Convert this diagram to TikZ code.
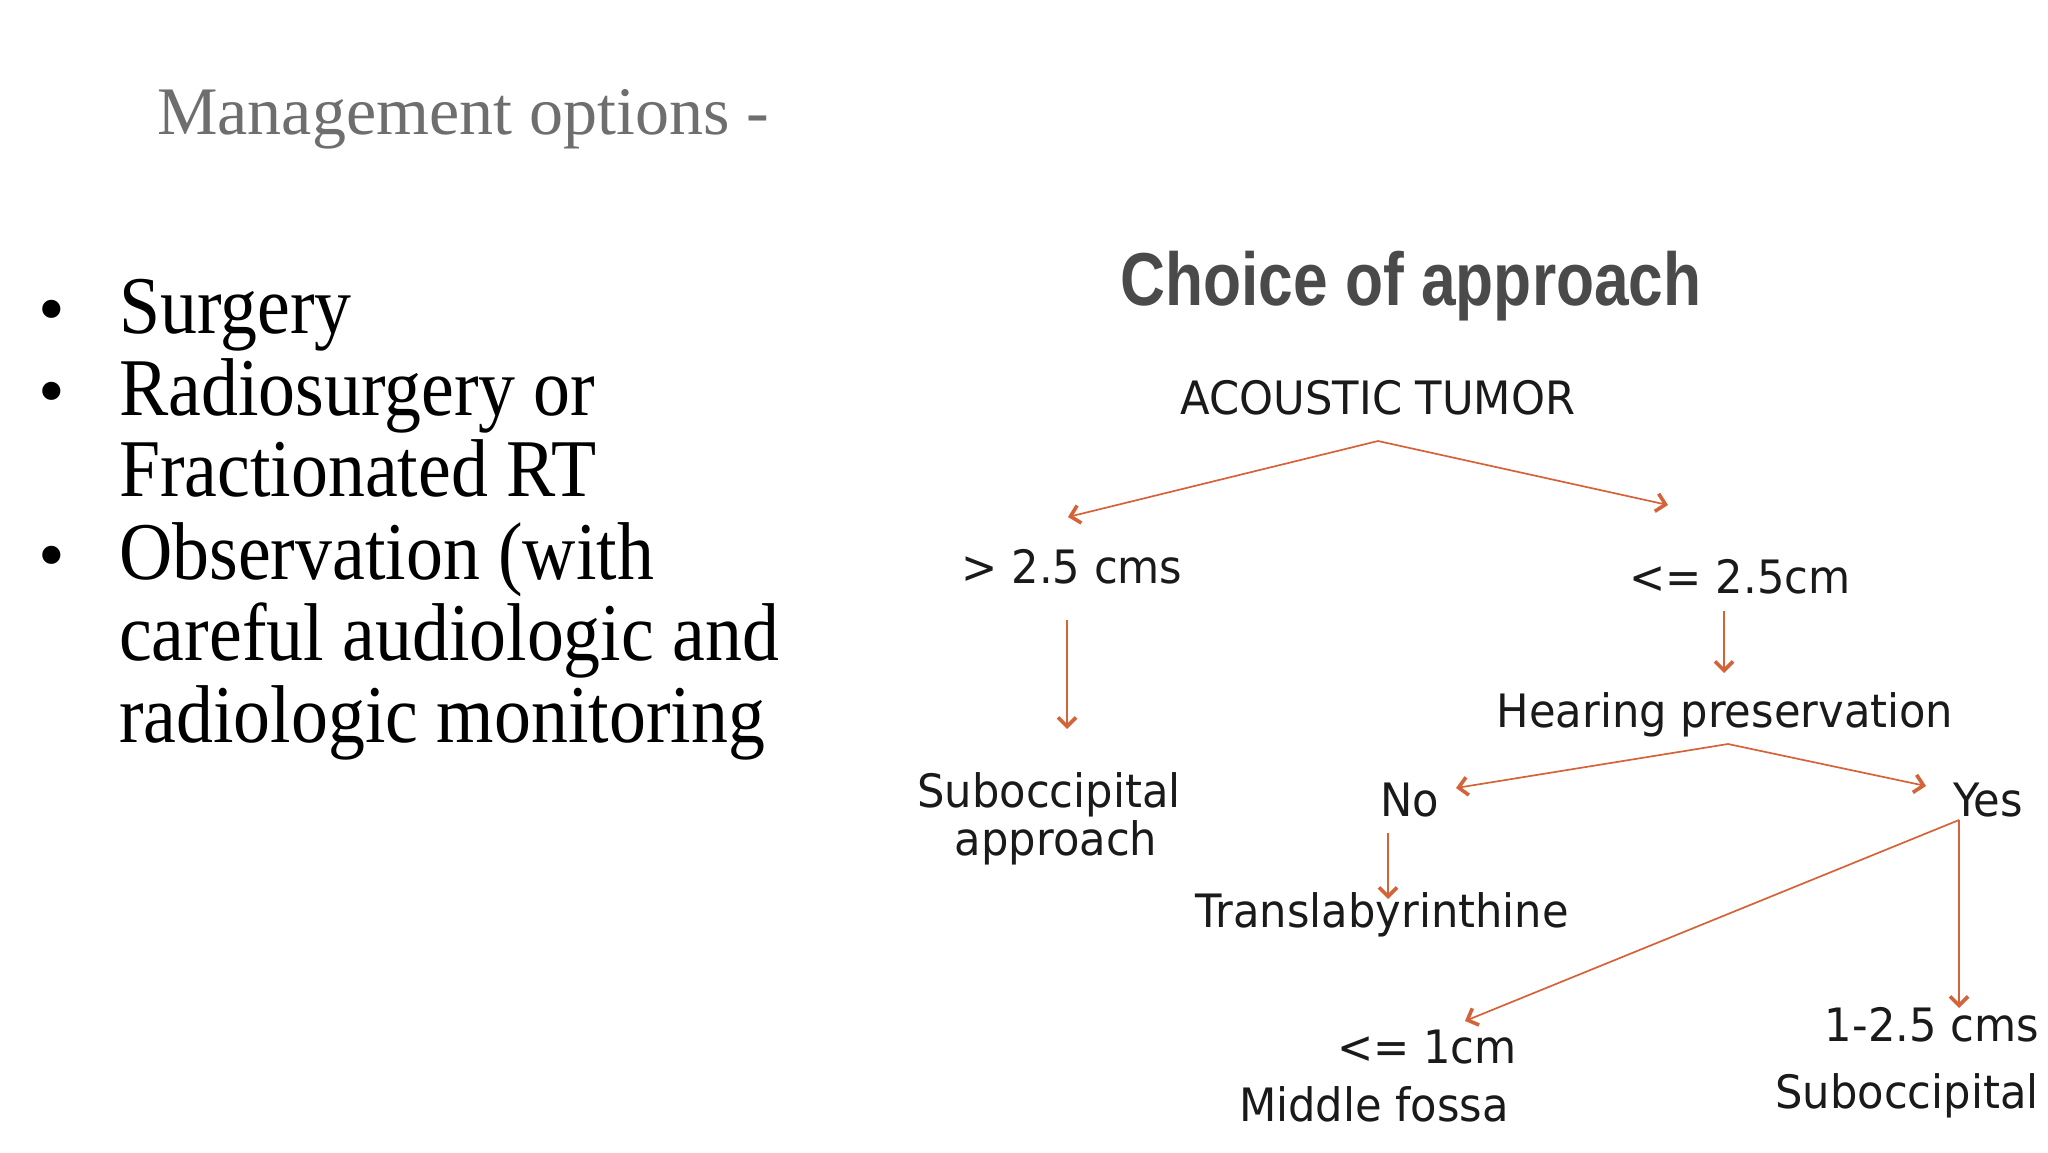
\documentclass[tikz,border=0pt]{standalone}
\usepackage{fontspec}
\usetikzlibrary{arrows.meta}
\setmainfont{Liberation Serif}
\newfontfamily\bodyfont[FakeStretch=0.9]{Liberation Serif}
\newfontfamily\diagfont[FakeStretch=0.94]{DejaVu Sans}
\newfontfamily\titlefont[FakeStretch=0.83]{Liberation Sans}
\definecolor{arrowc}{HTML}{D5633A}
\definecolor{headgrey}{HTML}{6E6E6E}
\definecolor{choicegrey}{HTML}{4A4A4A}
\definecolor{diagtext}{HTML}{1A1A1A}
\tikzset{
  heading/.style={anchor=base west, inner sep=0pt, text=headgrey, font=\fontsize{68}{80}\selectfont},
  bodyline/.style={anchor=base west, inner sep=0pt, text=black, font=\bodyfont\fontsize{82}{90}\selectfont},
  bulletmark/.style={anchor=base, inner sep=0pt, text=black, font=\fontsize{76}{80}\selectfont},
  choicetitle/.style={anchor=base, inner sep=0pt, text=choicegrey, font=\titlefont\bfseries\fontsize{75}{85}\selectfont},
  lbl/.style={anchor=base, inner sep=0pt, text=diagtext, font=\diagfont\fontsize{46}{55}\selectfont},
  arr/.style={draw=arrowc, line width=1.7pt, -{Straight Barb[length=9pt,width=18pt,line width=3.6pt]}}
}
\begin{document}
\begin{tikzpicture}[x=1pt,y=-1pt]
\useasboundingbox (0,0) rectangle (2048,1152);
\fill[white] (0,0) rectangle (2048,1152);
% left side
\node[heading] (mgmt) at (157,134) {Management options -};
\node[bulletmark] (b1) at (52,334) {•};
\node[bulletmark] (b2) at (52,416) {•};
\node[bulletmark] (b3) at (52,580) {•};
\node[bodyline] (l1) at (119,333) {Surgery};
\node[bodyline] (l2) at (119,415) {Radiosurgery or};
\node[bodyline] (l3) at (119,496) {Fractionated RT};
\node[bodyline] (l4) at (119,579) {Observation (with};
\node[bodyline] (l5) at (119,660) {careful audiologic and};
\node[bodyline] (l6) at (119,742) {radiologic monitoring};
% diagram
\node[choicetitle] (choice) at (1411,305) {Choice of approach};
\node[lbl] (tumor) at (1378,414) {ACOUSTIC TUMOR};
\node[lbl] (big) at (1072,583) {> 2.5 cms};
\node[lbl] (small) at (1740,593) {<= 2.5cm};
\node[lbl] (subl1) at (1049,807) {Suboccipital};
\node[lbl] (subl2) at (1056,855) {approach};
\node[lbl] (hear) at (1725,727) {Hearing preservation};
\node[lbl] (no) at (1410,816) {No};
\node[lbl] (yes) at (1988,816) {Yes};
\node[lbl] (trans) at (1382,927) {Translabyrinthine};
\node[lbl] (one) at (1427,1063) {<= 1cm};
\node[lbl] (mid) at (1374,1121) {Middle fossa};
\node[lbl] (onetwo) at (1932,1041) {1-2.5 cms};
\node[lbl] (subr) at (1907,1108) {Suboccipital};
% connector points
\coordinate (apT) at (1378,441);
\coordinate (tipBig) at (1068,517);
\coordinate (tipSmall) at (1668,505);
\coordinate (srcBig) at (1067,620);
\coordinate (tipSub) at (1067,729);
\coordinate (srcSmall) at (1724,611);
\coordinate (tipHear) at (1724,673);
\coordinate (apH) at (1728,744);
\coordinate (tipNo) at (1456,788);
\coordinate (tipYes) at (1926,786);
\coordinate (srcNo) at (1388,833);
\coordinate (tipTrans) at (1388,899);
\coordinate (apY) at (1959,820);
\coordinate (tipOne) at (1465,1021);
\coordinate (tipOneTwo) at (1959,1008);
\draw[arr] (apT) -- (tipBig);
\draw[arr] (apT) -- (tipSmall);
\draw[arr] (srcBig) -- (tipSub);
\draw[arr] (srcSmall) -- (tipHear);
\draw[arr] (apH) -- (tipNo);
\draw[arr] (apH) -- (tipYes);
\draw[arr] (srcNo) -- (tipTrans);
\draw[arr] (apY) -- (tipOne);
\draw[arr] (apY) -- (tipOneTwo);
\end{tikzpicture}
\end{document}
